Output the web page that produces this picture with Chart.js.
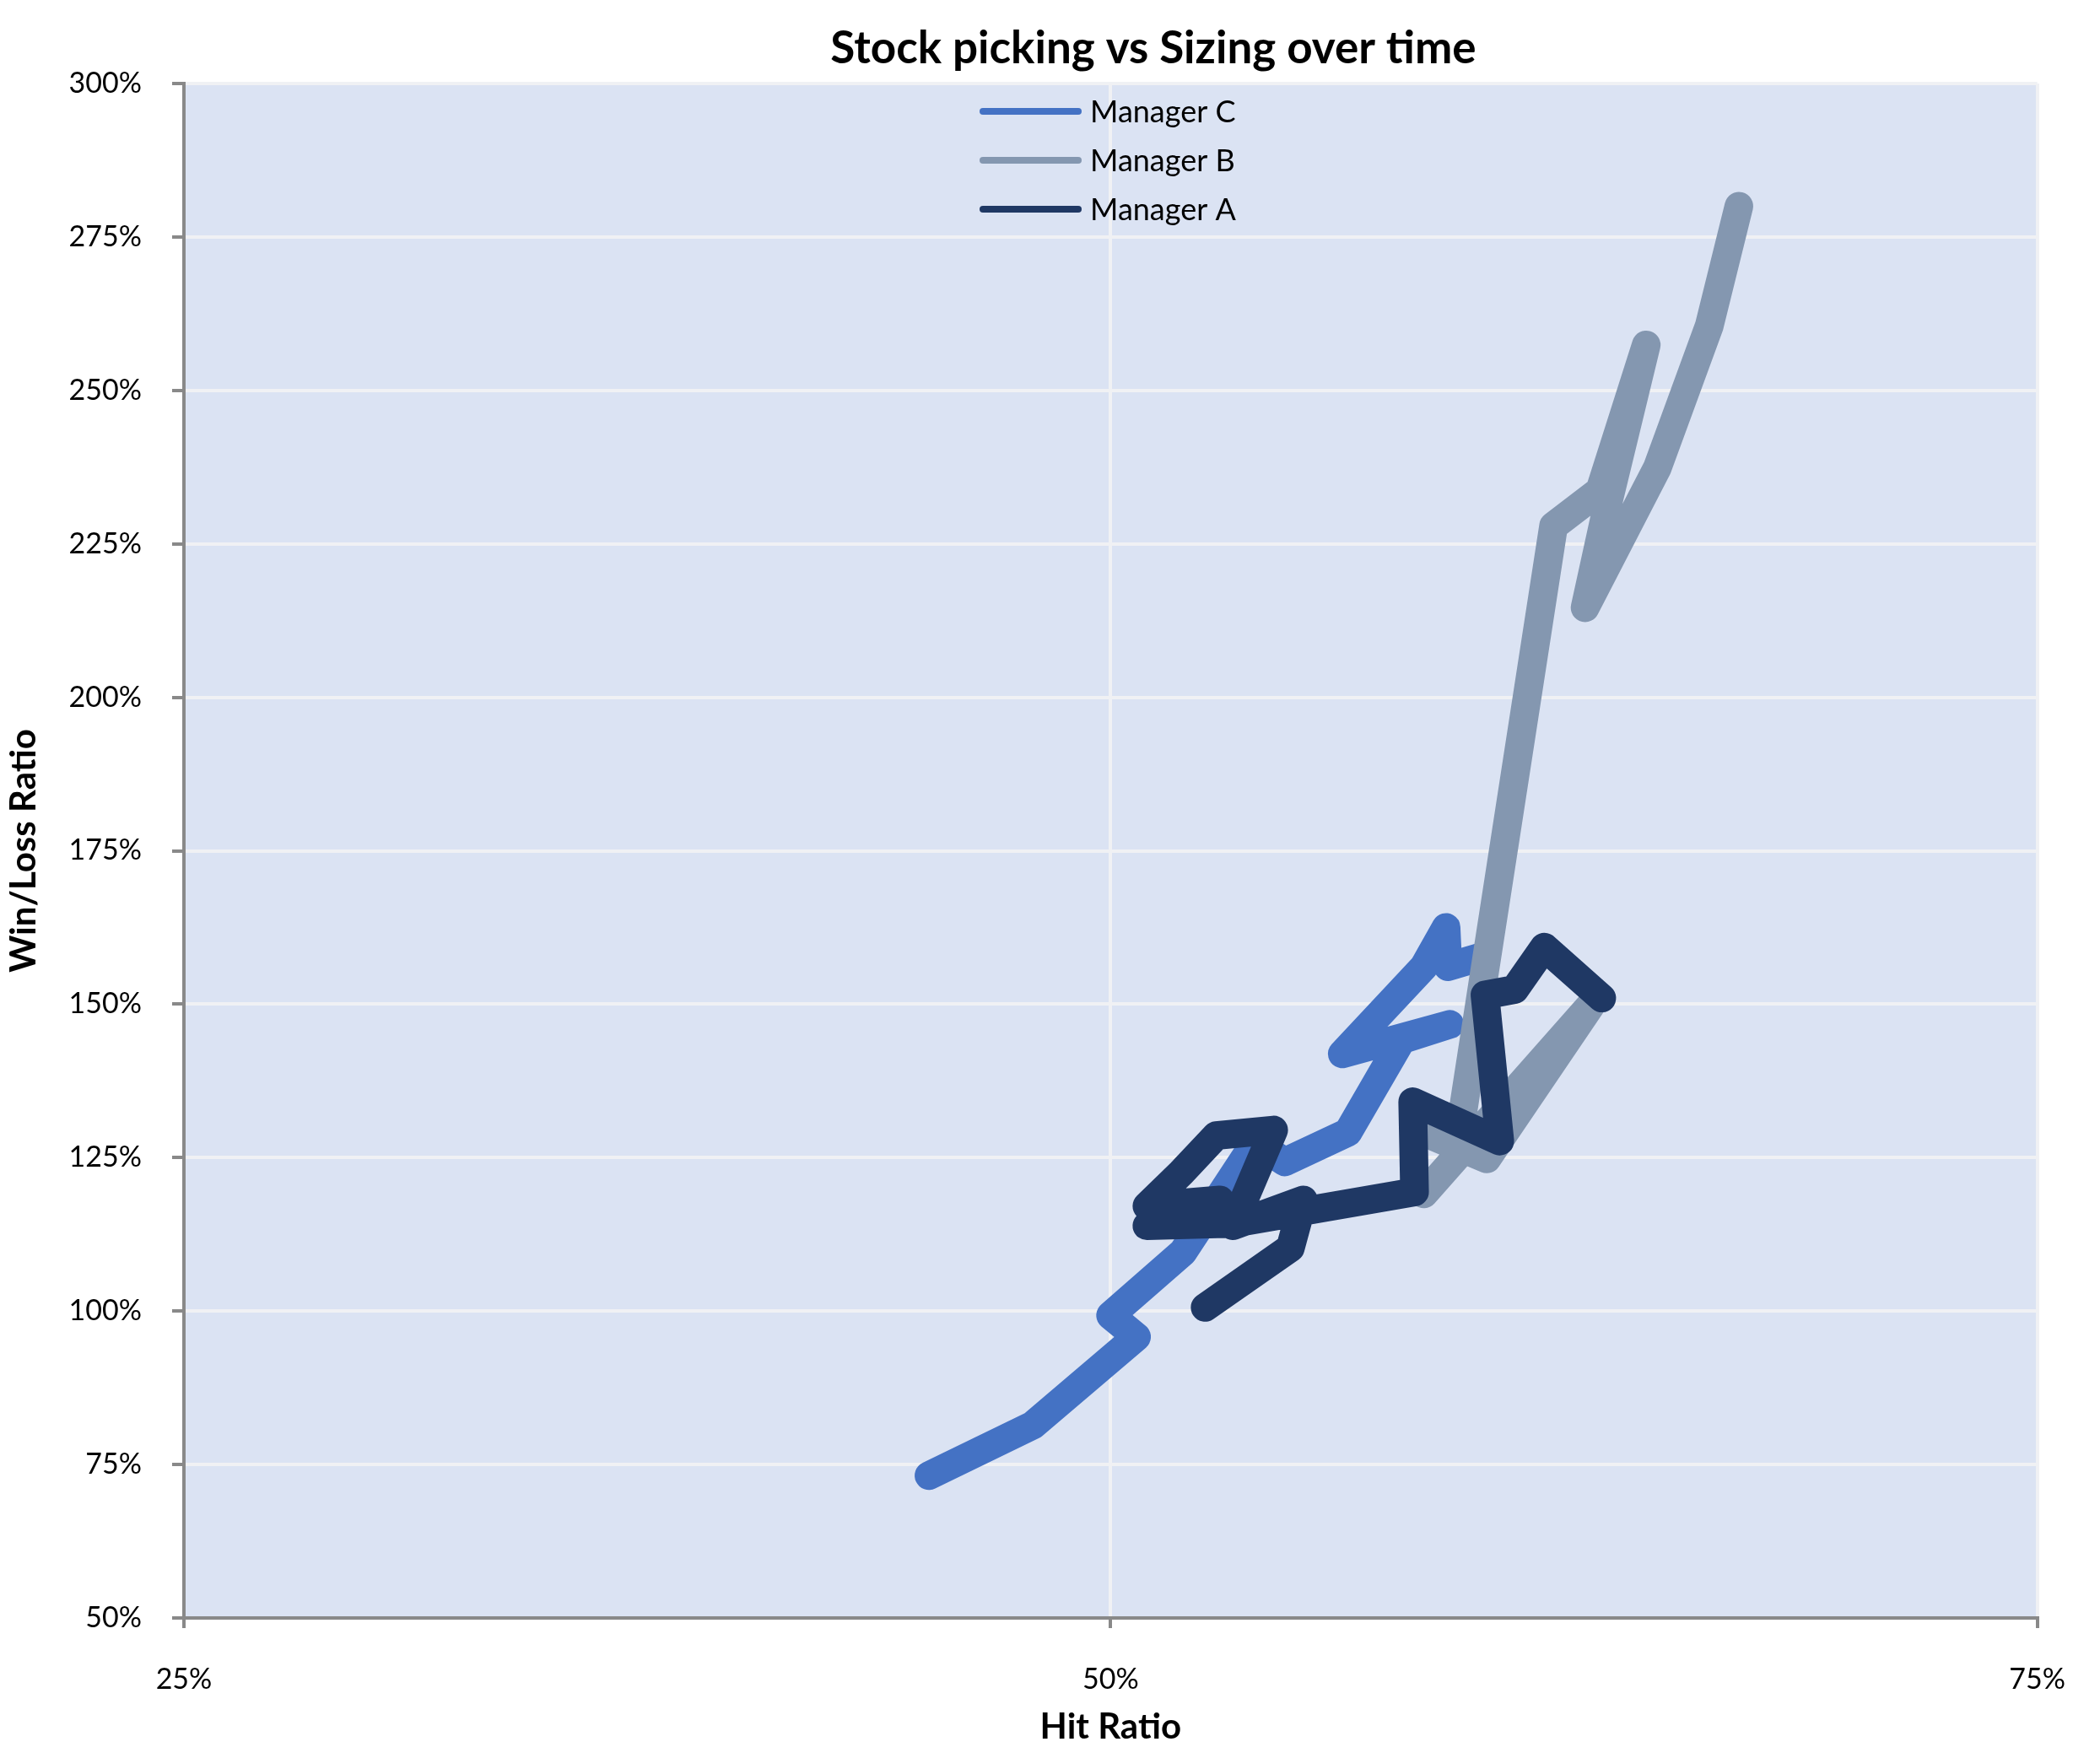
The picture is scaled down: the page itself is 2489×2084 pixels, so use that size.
<!DOCTYPE html>
<html>
<head>
<meta charset="utf-8">
<script src="https://cdn.jsdelivr.net/npm/chart.js@4.4.1/dist/chart.umd.min.js"></script>
<style>
  html, body { margin: 0; padding: 0; background: #fff; }
  canvas { display: block; }
</style>
</head>
<body>
<canvas id="mainChart" width="2489" height="2084" style="width:2489px;height:2084px"></canvas>
<script>
(function () {
  // values, in percent
  var managerCHit     = [45.1, 47.9, 50.7, 50.0, 51.95, 53.9, 54.7, 56.4, 57.85, 59.15, 56.25, 58.45, 59.05, 59.1, 60.1];
  var managerCWinLoss = [73.2, 81.4, 95.8, 99.3, 109.6, 127.5, 124.3, 129.1, 144.2, 146.7, 141.9, 156.1, 162.5, 156.1, 157.9];

  var managerBHit     = [58.45, 63.0, 60.15, 58.65, 59.5, 61.95, 63.2, 64.45, 63.45, 62.8, 64.75, 66.15, 66.95];
  var managerBWinLoss = [119.1, 150.2, 124.8, 128.6, 132.3, 227.9, 233.7, 257.4, 232.5, 214.6, 237.4, 260.5, 280.0];

  var managerAHit     = [52.55, 54.85, 55.2, 53.3, 54.4, 52.85, 51.9, 50.98, 52.95, 50.98, 53.3, 58.2, 58.15, 60.5, 60.1, 60.9, 61.7, 63.25];
  var managerAWinLoss = [100.6, 110.3, 118.1, 113.9, 129.5, 128.6, 122.5, 117.1, 118.1, 113.9, 114.3, 119.4, 134.1, 127.7, 151.5, 152.4, 159.3, 151.0];

  var seriesNames  = ['Manager A', 'Manager B', 'Manager C'];
  var seriesColors = ['#1f3864', '#8497b0', '#4472c4'];
  var legendOrder  = [2, 1, 0];

  var FONT = 'Lato, "Open Sans", sans-serif';

  function points(xs, ys) {
    return xs.map(function (x, i) { return { x: x, y: ys[i] }; });
  }

  function lineDataset(i, data) {
    return {
      label: seriesNames[i],
      data: data,
      showLine: true,
      borderColor: seriesColors[i],
      backgroundColor: seriesColors[i],
      borderWidth: 34,
      borderCapStyle: 'round',
      borderJoinStyle: 'round',
      pointRadius: 0,
      pointHoverRadius: 0,
      tension: 0
    };
  }

  var chrome = {
    id: 'chrome',
    beforeDraw: function (chart) {
      var a = chart.chartArea, ctx = chart.ctx;
      ctx.save();
      ctx.fillStyle = '#dbe3f3';
      ctx.fillRect(a.left, a.top, a.right - a.left, a.bottom - a.top);
      ctx.restore();
    },
    afterDraw: function (chart) {
      var ctx = chart.ctx;
      ctx.save();
      // title
      ctx.fillStyle = '#000';
      ctx.font = 'bold 53px ' + FONT;
      ctx.textAlign = 'center';
      ctx.textBaseline = 'alphabetic';
      ctx.fillText('Stock picking vs Sizing over time', 1367, 75);
      // legend, stacked in the top of the plot
      ctx.font = '36px ' + FONT;
      ctx.textAlign = 'left';
      ctx.textBaseline = 'middle';
      legendOrder.forEach(function (idx, row) {
        var y = 132 + row * 58;
        ctx.strokeStyle = seriesColors[idx];
        ctx.lineWidth = 8;
        ctx.lineCap = 'round';
        ctx.beginPath();
        ctx.moveTo(1165, y);
        ctx.lineTo(1278, y);
        ctx.stroke();
        ctx.fillStyle = '#000';
        ctx.fillText(seriesNames[idx], 1292, y + 1);
      });
      ctx.restore();
    }
  };

  new Chart(document.getElementById('mainChart').getContext('2d'), {
    type: 'scatter',
    data: {
      datasets: [
        lineDataset(0, points(managerAHit, managerAWinLoss)),
        lineDataset(1, points(managerBHit, managerBWinLoss)),
        lineDataset(2, points(managerCHit, managerCWinLoss))
      ]
    },
    options: {
      responsive: false,
      animation: false,
      devicePixelRatio: 1,
      layout: { padding: { top: 99, right: 67, left: 0, bottom: 0 } },
      plugins: {
        legend: { display: false },
        title: { display: false },
        tooltip: { enabled: false }
      },
      scales: {
        x: {
          type: 'linear',
          min: 25,
          max: 75,
          afterFit: function (s) { s.height = 166; },
          ticks: {
            stepSize: 25,
            padding: 41,
            color: '#000',
            font: { family: FONT, size: 34 },
            callback: function (v) { return v + '%'; }
          },
          grid: { color: '#f0f1f4', lineWidth: 4, tickLength: 12, tickColor: '#898989', tickWidth: 4 },
          border: { color: '#898989', width: 4 },
          title: {
            display: true,
            text: 'Hit Ratio',
            color: '#000',
            font: { family: FONT, size: 42, weight: 'bold' },
            padding: { top: 0, bottom: 11 }
          }
        },
        y: {
          type: 'linear',
          min: 50,
          max: 300,
          afterFit: function (s) { s.width = 218; },
          ticks: {
            stepSize: 25,
            padding: 36,
            color: '#000',
            font: { family: FONT, size: 34 },
            callback: function (v) { return v + '%'; }
          },
          grid: { color: '#f0f1f4', lineWidth: 4, tickLength: 14, tickColor: '#898989', tickWidth: 4 },
          border: { color: '#898989', width: 4 },
          title: {
            display: true,
            text: 'Win/Loss Ratio',
            color: '#000',
            font: { family: FONT, size: 42, weight: 'bold' },
            padding: { top: 3, bottom: 0 }
          }
        }
      }
    },
    plugins: [chrome]
  });
})();
</script>
</body>
</html>
